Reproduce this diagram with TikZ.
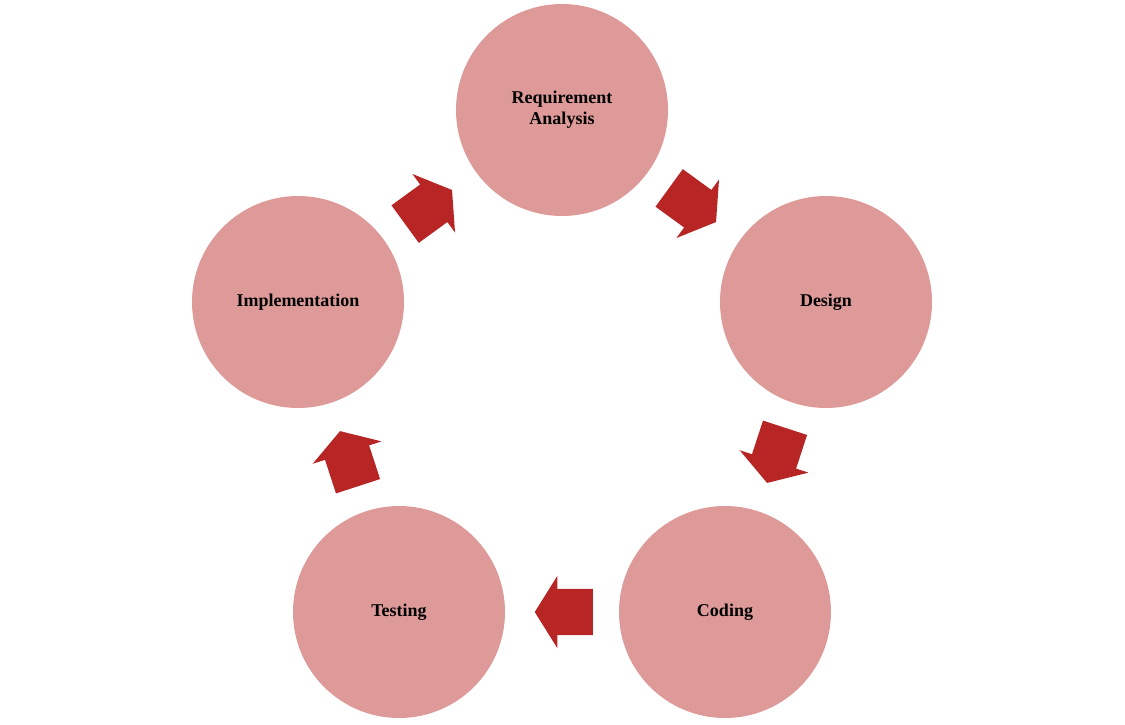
\documentclass[tikz,border=0pt]{standalone}
\usepackage{fontspec}
\setmainfont{Liberation Serif}
\usetikzlibrary{shapes.arrows}
\definecolor{circ}{HTML}{DE9A99}
\definecolor{arr}{HTML}{B82525}
\begin{document}
\begin{tikzpicture}[x=1pt,y=-1pt,
  stage/.style={circle,fill=circ,minimum size=212pt,inner sep=0pt,align=center,font=\bfseries\fontsize{18}{21}\selectfont},
  blk/.style={single arrow,fill=arr,inner sep=0pt,text width=0pt,text height=23pt,text depth=23pt,minimum height=58pt,minimum width=72pt,single arrow head extend=13pt,single arrow tip angle=116}]
\useasboundingbox (0,0) rectangle (1125,724);
\node[stage] (req) at (562,110) {Requirement\\Analysis};
\node[stage] (des) at (826,302) {Design};
\node[stage] (cod) at (725,612) {Coding};
\node[stage] (tes) at (399,612) {Testing};
\node[stage] (imp) at (298,302) {Implementation};
\foreach \a/\b/\n in {req/des/a1,des/cod/a2,cod/tes/a3,tes/imp/a4,imp/req/a5}{
  \path (\a) -- (\b) node[midway,sloped,blk,allow upside down,xshift=-9pt] (\n) {};
}
\end{tikzpicture}
\end{document}
